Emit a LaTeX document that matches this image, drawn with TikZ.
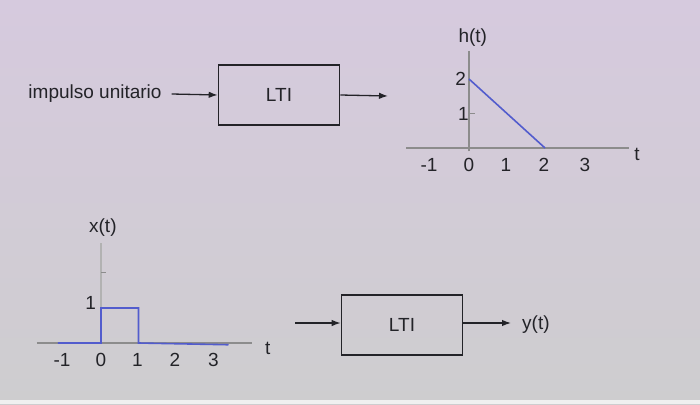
\documentclass[tikz,border=0pt]{standalone}
\usepackage{fontspec}
\setmainfont{Liberation Sans}
\usetikzlibrary{arrows.meta}

\definecolor{bgtop}{RGB}{214,202,222}
\definecolor{bgbot}{RGB}{206,205,207}
\definecolor{sigblue}{RGB}{82,92,205}
\definecolor{ink}{RGB}{35,35,40}

\begin{document}
\begin{tikzpicture}[x = 1pt, y = -1pt,
        box/.style = {draw = ink, line width = 1.6pt, minimum width = 121pt,
                      minimum height = 60pt, inner sep = 0pt},
        flow/.style = {draw = ink, line width = 1.3pt, -{Latex[length = 9pt, width = 6.5pt]}},
        axis/.style = {draw = black!45, line width = 1.1pt},
        sig/.style = {draw = sigblue, line width = 1.6pt},
        lbl/.style = {font = \fontsize{19}{21}\selectfont, text = ink, inner sep = 1pt}]
        % background of the photo
        \fill[top color = bgtop, bottom color = bgbot] (0,0) rectangle (700,404);
        \fill[black!6] (0,400) rectangle (700,404);

        % top: impulse into the system
        \node[lbl] (imp) at (95,94) {impulso unitario};
        \node[box, lbl] (lti1) at (279,95) {LTI};
        \coordinate (out1) at (388,96);
        \draw[flow] ([xshift = 9pt]imp.east) -- (lti1.west);
        \draw[flow] (lti1.east) -- (out1);

        % impulse response h(t)
        \begin{scope}[shift = {(469,148)}, x = 38pt, y = 34.5pt]
          \draw[axis] (-1.65,0) -- (4.2,0);
          \draw[axis] (0,-0.1) -- (0,2.8);
          \draw[axis, line width = .6pt] (0,1) -- (0.15,1);
          \draw[sig] (0,2) -- (2,0);
          \node[lbl] (hm1) at (-1.05,-0.5) {-1};
          \node[lbl] (h0) at (0,-0.5) {0};
          \node[lbl] (h1) at (0.97,-0.5) {1};
          \node[lbl] (h2) at (1.97,-0.5) {2};
          \node[lbl] (h3) at (3.05,-0.5) {3};
          \node[lbl, anchor = east] (hy1) at (0.02,1) {1};
          \node[lbl, anchor = east] (hy2) at (-0.05,2) {2};
          \node[lbl] (hlab) at (0.1,3.2) {h(t)};
          \node[lbl] (ht) at (4.42,-0.2) {t};
        \end{scope}

        % input x(t)
        \begin{scope}[shift = {(101,343)}, x = 37.5pt, y = 35pt]
          \draw[axis] (-1.71,0) -- (4.03,0);
          \draw[axis, black!30] (0,0) -- (0,2.86);
          \draw[axis, line width = .6pt] (0,2.03) -- (0.12,2.03);
          \draw[sig] (-1.15,0) -- (0,0) -- (0,1) -- (1,1) -- (1,0) -- (3.4,-0.05);
          \node[lbl] (xm1) at (-1.04,-0.49) {-1};
          \node[lbl] (x0) at (0,-0.49) {0};
          \node[lbl] (x1) at (0.97,-0.49) {1};
          \node[lbl] (x2) at (1.97,-0.49) {2};
          \node[lbl] (x3) at (3.0,-0.49) {3};
          \node[lbl, anchor = east] (xy1) at (-0.1,1.15) {1};
          \node[lbl] (xlab) at (0.05,3.3) {x(t)};
          \node[lbl] (xt) at (4.45,-0.15) {t};
        \end{scope}

        % bottom: x(t) into the system
        \coordinate (in2) at (295,323);
        \node[box, lbl] (lti2) at (402,325) {LTI};
        \node[lbl, anchor = west] (yt) at (521,325) {y(t)};
        \draw[flow] (in2) -- (lti2.west |- in2);
        \draw[flow] (lti2.east |- in2) -- ([xshift = -10pt]yt.west |- in2);
      \end{tikzpicture}
\end{document}
